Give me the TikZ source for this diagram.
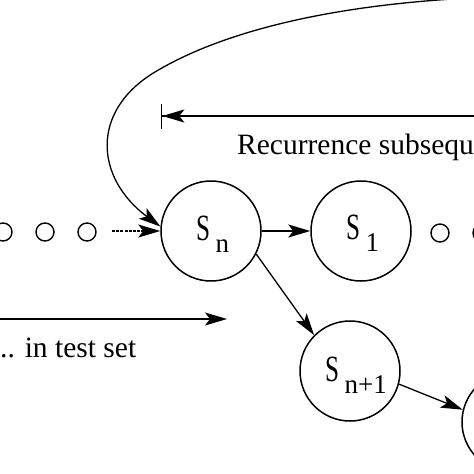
\documentclass[tikz,border=0pt]{standalone}
\usepackage{fontspec}
\setmainfont{Liberation Serif}
\usetikzlibrary{arrows.meta}
\newcommand{\Sbig}{\fontsize{37}{37}\selectfont}
\newcommand{\Ssub}{\fontsize{27}{27}\selectfont}
\newcommand{\txtsize}{\fontsize{29.5}{30}\selectfont}
\newcommand{\slab}[1]{{\Sbig\scalebox{0.68}[1]{S}}\hspace{5.5pt}\raisebox{-12pt}{\Ssub #1}}
\begin{document}
\begin{tikzpicture}[x=1pt,y=-1pt,
  state/.style={circle,draw,line width=1.5pt,minimum size=100pt,inner sep=0pt},
  smalldot/.style={circle,draw,line width=1.4pt,minimum size=18pt,inner sep=0pt},
  lbl/.style={inner sep=0pt,anchor=base west},
  txt/.style={inner sep=0pt,anchor=base west,font=\txtsize},
  tip/.style={-{Stealth[length=22pt,width=13pt,inset=5pt]}},
  arr/.style={line width=1.3pt,tip},
  dotted arr/.style={arr,dash pattern=on 3pt off 1.2pt}
]
\useasboundingbox (0,0) rectangle (474,474);
\clip (0,0) rectangle (474,474);

% main states
\node[state] (sn) at (211,231) {};
\node[state] (s1) at (361,231) {};
\node[state] (snp) at (350,371) {};
\node[state] (sr) at (512,422) {};

% labels
\node[lbl] (snl) at (196,240) {\slab{n}};
\node[lbl] (s1l) at (346,239) {\slab{1}};
\node[lbl] (snpl) at (325,381) {\slab{n+1}};

% small circles
\node[smalldot] (d1) at (3,232) {};
\node[smalldot] (d2) at (45,232) {};
\node[smalldot] (d3) at (87,232) {};
\node[smalldot] (d4) at (440,233) {};
\node[smalldot] (d5) at (482,233) {};

% connectors
\coordinate (din) at (112,231);
\draw[dotted arr] (din) -- (sn.west);
\draw[arr] (sn.east) -- (s1.west);
\draw[arr] (sn.-27) -- (snp.135);
\draw[arr] (snp.-15) -- (sr.166);

% big feedback curve
\coordinate (ctop) at (540,-4);
\draw[arr] (ctop) .. controls (380,-3) and (240,21) .. (155,72)
  .. controls (90,111) and (95,178) .. (sn.175);

% recurrence subsequence span
\coordinate (rr) at (480,116);
\coordinate (rl) at (161,116);
\draw[line width=1.3pt,-{Stealth[length=22pt,width=13pt,inset=5pt] Bar[width=25pt]}] (rr) -- (rl);
\node[txt] (rtext) at (237,154) {Recurrence subsequ};

% test set span
\coordinate (tl) at (-5,319);
\coordinate (tr) at (227,319);
\draw[arr] (tl) -- (tr);
\node[txt] (ttext) at (0,357) {.. in test set};
\end{tikzpicture}
\end{document}
